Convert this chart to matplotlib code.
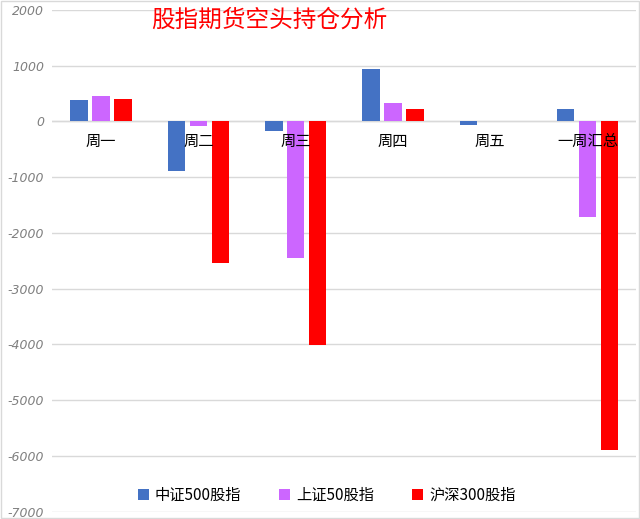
import numpy as np
import matplotlib.pyplot as plt

plt.rcParams['font.family'] = ['Noto Sans CJK SC', 'DejaVu Sans']
plt.rcParams['axes.unicode_minus'] = False

# data
categories = ["周一", "周二", "周三", "周四", "周五", "一周汇总"]
series_names = ["中证500股指", "上证50股指", "沪深300股指"]
zz500 = [379, -897, -178, 943, -66, 231]
sz50 = [456, -78, -2445, 326, 0, -1721]
hs300 = [397, -2539, -4004, 231, 0, -5897]
colors = ["#4472c4", "#cc66ff", "#ff0000"]

fig = plt.figure(figsize=(6.4, 5.19), dpi=100)
ax = fig.add_axes([0.082, 0.014, 0.912, 0.967])

x = np.arange(len(categories))
width = 0.18
gap = 0.045
for i, (vals, name, c) in enumerate(zip([zz500, sz50, hs300], series_names, colors)):
    offs = (i - 1) * (width + gap)
    ax.bar(x + offs, vals, width, color=c, label=name, zorder=3)

ax.set_xlim(-0.5, len(categories) - 0.5)
ax.set_ylim(-7000, 2000)
ax.set_yticks(np.arange(-7000, 2001, 1000))
ax.set_yticklabels([str(v) for v in range(-7000, 2001, 1000)],
                   color="#7f7f7f", fontsize=9, style="italic", family="DejaVu Sans")
ax.yaxis.grid(True, color="#d9d9d9", linewidth=1, zorder=0)
ax.tick_params(axis="y", length=0, pad=6)
ax.set_xticks([])
for s in ax.spines.values():
    s.set_visible(False)
ax.axhline(0, color="#d9d9d9", linewidth=1, zorder=2)

# category labels sit just under the zero line
for xi, lab in zip(x, categories):
    ax.text(xi, -200, lab, ha="center", va="top", fontsize=11, color="black",
            fontweight="medium", zorder=4)

fig.text(0.42, 0.962, "股指期货空头持仓分析", ha="center", va="center",
         fontsize=17, color="red", fontweight="medium")

ax.legend(loc="lower center", bbox_to_anchor=(0.47, -0.012), ncol=3, frameon=False,
          prop={"size": 11, "weight": "medium"}, handlelength=0.7, handleheight=0.7,
          columnspacing=2.5, handletextpad=0.4)

# light frame round the chart
fig.patches.append(plt.Rectangle((0.001, 0.001), 0.997, 0.997, transform=fig.transFigure,
                                 fill=False, edgecolor="#d9d9d9", linewidth=1))

fig.savefig("out.png", dpi=100)
